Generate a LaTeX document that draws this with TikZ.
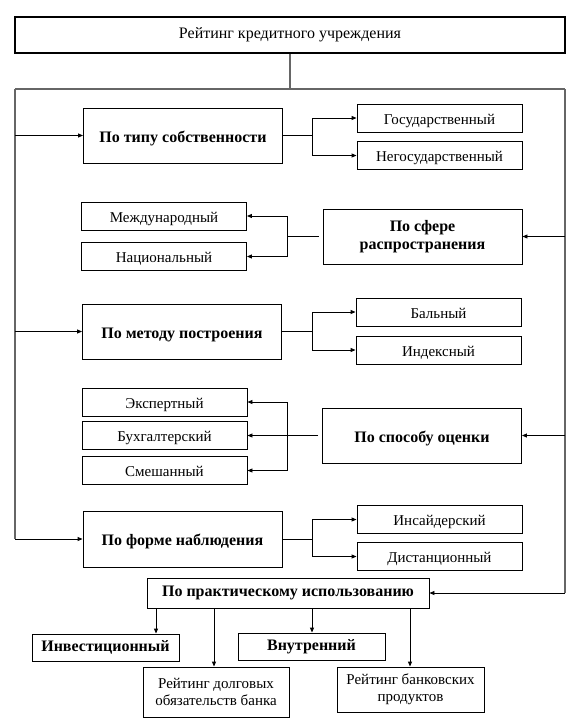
\documentclass[tikz,border=0pt]{standalone}
\usepackage{fontspec}
\setmainfont{Liberation Serif}
\usetikzlibrary{arrows.meta}
\begin{document}
\begin{tikzpicture}[x=1pt,y=-1pt,
  base/.style={draw=black,line width=0.9pt,inner sep=0pt,align=center},
  reg/.style={base,font=\fontsize{15}{17}\selectfont},
  bld/.style={base,font=\fontsize{16}{18}\selectfont\bfseries},
  catbox/.style={bld,minimum width=199,minimum height=55},
  cat/.style={catbox,text height=13pt,text depth=0pt},
  leaf/.style={reg,minimum width=165,minimum height=28,text height=12pt,text depth=0pt},
  frame/.style={draw=black!60,line width=1.3pt},
  conn/.style={draw=black,line width=0.9pt},
  arr/.style={conn,-{Triangle[length=5pt,width=4pt]}},
  gap/.style={shorten <=4pt}]
\useasboundingbox[fill=white] (0,0) rectangle (577,723);

% top
\node[base,font=\fontsize{16}{18}\selectfont,line width=2.6pt,minimum width=550,minimum height=36] (top) at (290,35) {Рейтинг кредитного учреждения};

% categories
\node[cat] (tip) at (183,135.5) {По типу собственности};
\node[catbox] (sfera) at (422.5,236.5) {По сфере\\распространения};
\node[cat] (metod) at (182,331.5) {По методу построения};
\node[cat] (sposob) at (422,435.5) {По способу оценки};
\node[cat,minimum height=56] (forma) at (182.5,539) {По форме наблюдения};
\node[bld,minimum width=282,minimum height=30] (prakt) at (288,593) {По практическому использованию};

% leaves
\node[leaf] (gos) at (439.5,118) {Государственный};
\node[leaf] (negos) at (439.5,155.5) {Негосударственный};
\node[leaf] (mezh) at (164,216) {Международный};
\node[leaf] (nac) at (164,256.5) {Национальный};
\node[leaf] (bal) at (438.5,312) {Бальный};
\node[leaf] (ind) at (438.5,350) {Индексный};
\node[leaf] (eksp) at (164.5,402) {Экспертный};
\node[leaf] (buh) at (164.5,435.5) {Бухгалтерский};
\node[leaf] (smesh) at (164.5,470.5) {Смешанный};
\node[leaf] (ins) at (439.5,519.5) {Инсайдерский};
\node[leaf] (dist) at (439.5,556.5) {Дистанционный};

\node[bld,minimum width=147,minimum height=27] (inv) at (105.5,647.5) {Инвестиционный};
\node[bld,minimum width=147,minimum height=27] (vnut) at (311.5,646.5) {Внутренний};
\node[reg,minimum width=146,minimum height=50] (dolg) at (216,692) {Рейтинг долговых\\обязательств банка};
\node[reg,minimum width=147,minimum height=45] (bank) at (410.5,689.5) {Рейтинг банковских\\продуктов};

% frame
\coordinate (fl) at (15,89);
\coordinate (fr) at (565,89);
\draw[frame] (top.south) -- (top.south |- fl);
\draw[frame] (fl) -- (fr);
\draw[frame] (fl) -- (fl |- forma.west);
\draw[frame] (fr) -- (fr |- prakt.east);
\draw[arr] (fl |- tip.west) -- (tip.west);
\draw[arr] (fl |- metod.west) -- (metod.west);
\draw[arr] (fl |- forma.west) -- (forma.west);
\draw[arr] (fr |- sfera.east) -- (sfera.east);
\draw[arr] (fr |- sposob.east) -- (sposob.east);
\draw[arr] (fr |- prakt.east) -- (prakt.east);

% branches right
\coordinate (bx1) at (312,0);
\draw[conn] (tip.east) -- (tip.east -| bx1);
\draw[arr] (tip.east -| bx1) |- (gos.west);
\draw[arr] (tip.east -| bx1) |- (negos.west);
\draw[conn] (metod.east) -- (metod.east -| bx1);
\draw[arr] (metod.east -| bx1) |- (bal.west);
\draw[arr] (metod.east -| bx1) |- (ind.west);
\draw[conn] (forma.east) -- (forma.east -| bx1);
\draw[arr] (forma.east -| bx1) |- (ins.west);
\draw[arr] (forma.east -| bx1) |- (dist.west);

% branches left
\coordinate (bx2) at (287,0);
\draw[conn,gap] (sfera.west) -- (sfera.west -| bx2);
\draw[arr] (sfera.west -| bx2) |- (mezh.east);
\draw[arr] (sfera.west -| bx2) |- (nac.east);
\draw[conn,gap] (sposob.west) -- (sposob.west -| bx2);
\draw[arr] (sposob.west -| bx2) |- (eksp.east);
\draw[arr] (sposob.west -| bx2) |- (buh.east);
\draw[arr] (sposob.west -| bx2) |- (smesh.east);

% bottom
\coordinate (c1) at (156,0);
\coordinate (c2) at (214,0);
\coordinate (c3) at (312,0);
\coordinate (c4) at (410,0);
\draw[arr] (prakt.south -| c1) -- (inv.north -| c1);
\draw[arr] (prakt.south -| c2) -- (dolg.north -| c2);
\draw[arr] (prakt.south -| c3) -- (vnut.north -| c3);
\draw[arr] (prakt.south -| c4) -- (bank.north -| c4);
\end{tikzpicture}
\end{document}
